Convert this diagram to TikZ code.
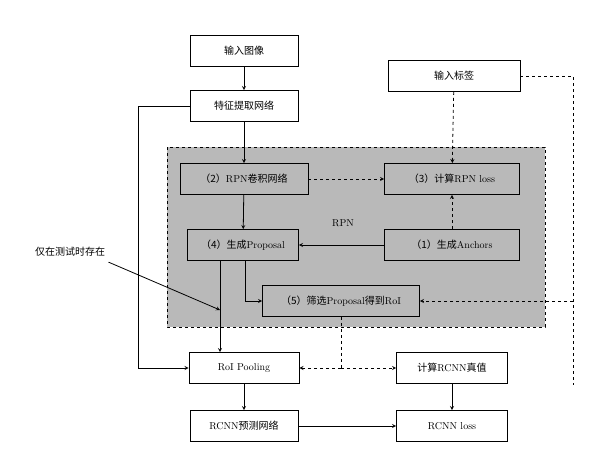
\documentclass[tikz,border=0pt]{standalone}
\usepackage{fontspec}
\newfontfamily\cjk{Noto Sans CJK SC}
\newcommand{\zh}[1]{{\cjk #1}}
\usetikzlibrary{positioning}
\usetikzlibrary{calc}
\usetikzlibrary{arrows}
\tikzset{
  box/.style={draw, thick, fill=white, minimum height=31pt, inner sep=2pt, font=\fontsize{10}{12}\selectfont},
  gbox/.style={box, fill=gray!55},
  line/.style={thick, ->, >=stealth},
  dline/.style={thick, ->, >=stealth, dashed}
}
\begin{document}
\begin{tikzpicture}[x=1pt, y=-1pt]

\useasboundingbox (0,0) rectangle (616,452);
\fill [gray!55] (167,147) rectangle (545,327);
\draw [thick, dashed] (167,147) rectangle (545,327);
\node at (343,223) {\fontsize{10}{12}\selectfont RPN};

\node [box, minimum width=108pt] (img) at (244,51) {\zh{输入图像}};
\node [box, minimum width=108pt] (feat) at (244,106) {\zh{特征提取网络}};
\node [box, minimum width=132pt] (label) at (454,76) {\zh{输入标签}};
\node [gbox, minimum width=128pt] (rpnconv) at (244,179) {\zh{（2）}RPN\zh{卷积网络}};
\node [gbox, minimum width=135pt] (rpnloss) at (452,179) {\zh{（3）计算}RPN loss};
\node [gbox, minimum width=111pt] (prop) at (243,245) {\zh{（4）生成}Proposal};
\node [gbox, minimum width=135pt] (anch) at (452,245) {\zh{（1）生成}Anchors};
\node [gbox, minimum width=157pt] (roi) at (341,301) {\zh{（5）筛选}Proposal\zh{得到}RoI};
\node [box, minimum width=110pt] (pool) at (244,368) {RoI Pooling};
\node [box, minimum width=111pt] (gt) at (452,368) {\zh{计算}RCNN\zh{真值}};
\node [box, minimum width=108pt] (pred) at (244,426) {RCNN\zh{预测网络}};
\node [box, minimum width=111pt] (loss) at (452,426) {RCNN loss};
\node [font=\fontsize{10}{12}\selectfont] (test) at (70,252) {\zh{仅在测试时存在}};

\coordinate (lft) at (138,106);
\coordinate (rgt) at (573,76);
\coordinate (rend) at (573,385);
\coordinate (mid) at (341,368);
\coordinate (hit) at (220,310);

\draw [line] (img) -- (feat);
\draw [line] (feat) -- (rpnconv);
\draw [line] (feat.west) -- (lft) |- (pool.west);
\draw [dline] (label) -- (rpnloss);
\draw [dashed, thick] (label.east) -- (rgt) -- (rend);
\draw [dline] (573,301) -- (roi.east);
\draw [dline] (rpnconv) -- (rpnloss);
\draw [dline] (anch) -- (rpnloss);
\draw [line] (rpnconv) -- (prop);
\draw [line] (anch) -- (prop);
\draw [line] (prop.south -| 220,0) -- (pool.north -| 220,0);
\draw [line] (prop.south -| 245,0) |- (roi.west);
\draw [dashed, thick] (roi.south) -- (mid);
\draw [dline] (mid) -- (pool.east);
\draw [dline] (mid) -- (gt.west);
\draw [line] (test.south east) ++(0,2) -- (hit);
\draw [line] (pool) -- (pred);
\draw [line] (gt) -- (loss);
\draw [line] (pred) -- (loss);

\end{tikzpicture}
\end{document}
